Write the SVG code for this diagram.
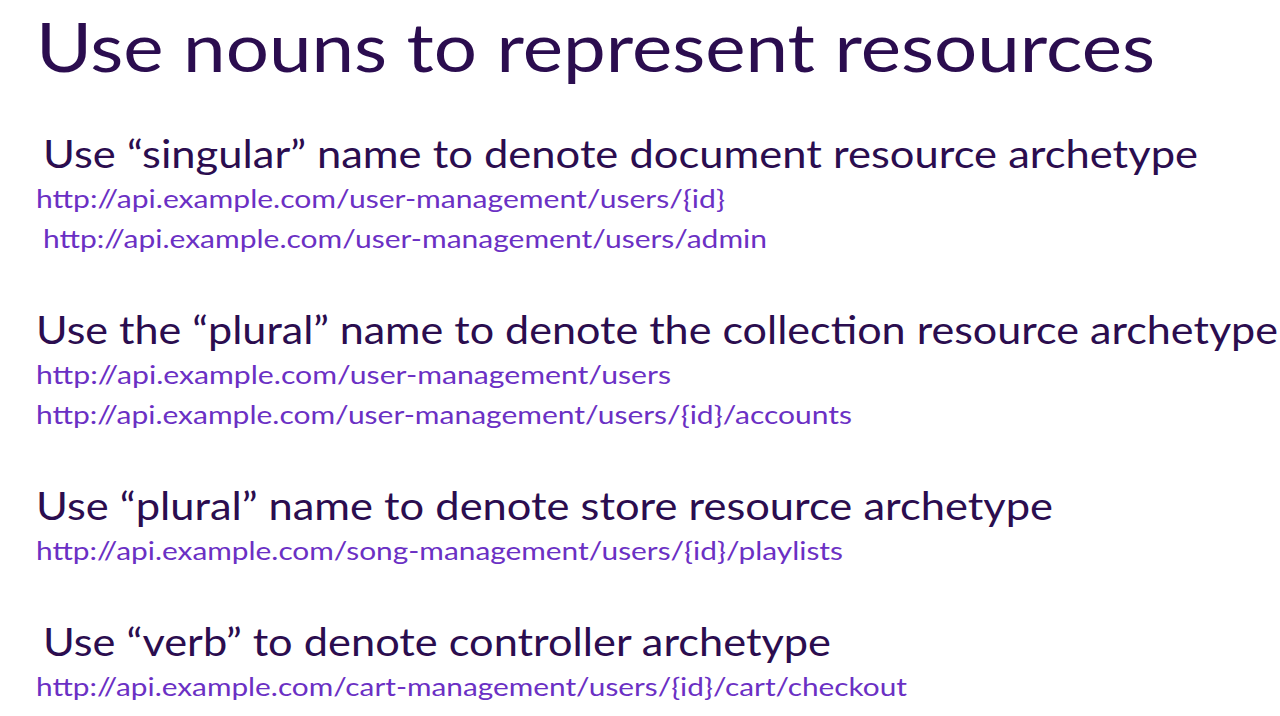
<svg xmlns="http://www.w3.org/2000/svg" width="1280" height="716" viewBox="0 0 1280 716">
<style>
text{font-family:"Lato","Noto Sans",sans-serif;}
.t{fill:#2b0d4f;font-size:68px;}
.h{fill:#2b0d4f;font-size:38px;}
.u{fill:#6b30c4;font-size:25px;}
</style>
<rect width="1280" height="716" fill="#ffffff"/>
<g id="title"><text class="t" x="36" y="72" textLength="1119" lengthAdjust="spacingAndGlyphs">Use nouns to represent resources</text></g>
<g id="document">
<text class="h" x="43" y="168" textLength="1155" lengthAdjust="spacingAndGlyphs">Use “singular” name to denote document resource archetype</text>
<text class="u" x="36" y="208" textLength="689" lengthAdjust="spacingAndGlyphs">http://api.example.com/user-management/users/{id}</text>
<text class="u" x="43" y="248" textLength="724" lengthAdjust="spacingAndGlyphs">http://api.example.com/user-management/users/admin</text>
</g>
<g id="collection">
<text class="h" x="36" y="344" textLength="1242" lengthAdjust="spacingAndGlyphs">Use the “plural” name to denote the collection resource archetype</text>
<text class="u" x="36" y="384" textLength="635" lengthAdjust="spacingAndGlyphs">http://api.example.com/user-management/users</text>
<text class="u" x="36" y="424" textLength="816" lengthAdjust="spacingAndGlyphs">http://api.example.com/user-management/users/{id}/accounts</text>
</g>
<g id="store">
<text class="h" x="36" y="520" textLength="1017" lengthAdjust="spacingAndGlyphs">Use “plural” name to denote store resource archetype</text>
<text class="u" x="36" y="560" textLength="807" lengthAdjust="spacingAndGlyphs">http://api.example.com/song-management/users/{id}/playlists</text>
</g>
<g id="controller">
<text class="h" x="43" y="656" textLength="788" lengthAdjust="spacingAndGlyphs">Use “verb” to denote controller archetype</text>
<text class="u" x="36" y="696" textLength="871" lengthAdjust="spacingAndGlyphs">http://api.example.com/cart-management/users/{id}/cart/checkout</text>
</g>
<g id="connectors"></g>
</svg>
